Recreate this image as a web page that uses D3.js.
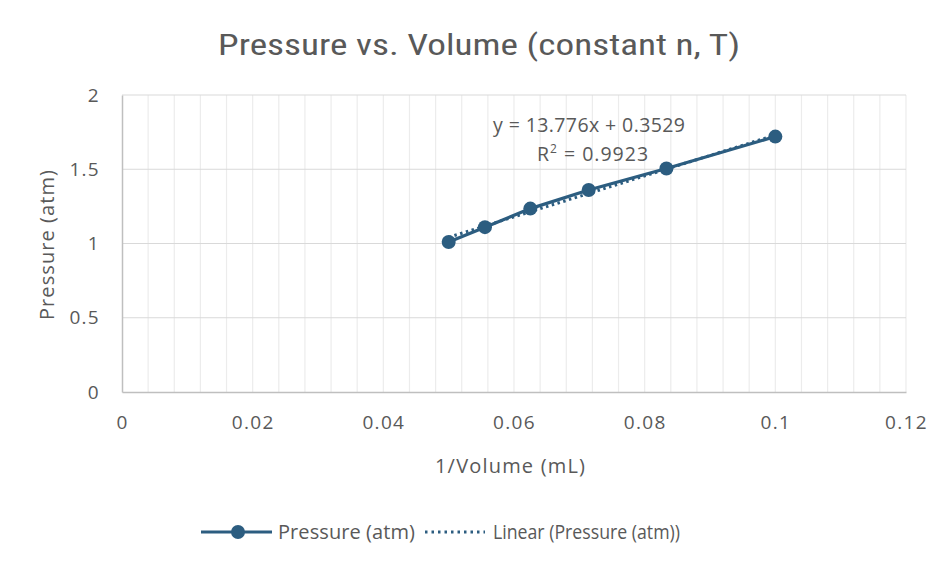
<!DOCTYPE html>
<html>
<head>
<meta charset="utf-8">
<script src="https://cdn.jsdelivr.net/npm/d3@7"></script>
<style>
  body { margin: 0; background: #fff; }
  text { font-family: "Open Sans", Roboto, "Liberation Sans", sans-serif; fill: #595959; }
  .title { font-family: "Liberation Sans Narrow", "Roboto Condensed", "DejaVu Sans Condensed", Roboto, sans-serif; }
</style>
</head>
<body>
<div id="chart"></div>
<script>
const width = 950, height = 570;
const margin = { top: 95, bottom: 178, left: 122, right: 44 };

// data: x = 1/Volume, y = Pressure (atm)
const inverseVolume = [1/20, 1/18, 1/16, 1/14, 1/12, 1/10];
const pressure = [1.01, 1.11, 1.235, 1.36, 1.505, 1.72];
const trendSlope = 13.776, trendIntercept = 0.3529;
const xTicks = [0, 0.02, 0.04, 0.06, 0.08, 0.1, 0.12];
const yTicks = [0, 0.5, 1, 1.5, 2];
const seriesColor = '#2c5d80';

const innerW = width - margin.left - margin.right;
const innerH = height - margin.top - margin.bottom;

const xScale = d3.scaleLinear().domain([0, 0.12]).range([0, innerW]);
const yScale = d3.scaleLinear().domain([0, 2]).range([innerH, 0]);

const svg = d3.select('#chart').append('svg')
    .attr('width', width)
    .attr('height', height);

const g = svg.append('g')
    .attr('transform', 'translate(' + margin.left + ',' + margin.top + ')');

// minor vertical gridlines every 0.004
g.append('g')
    .selectAll('line')
    .data(d3.range(1, 31).map(i => i * 0.004))
    .join('line')
    .attr('x1', d => xScale(d)).attr('x2', d => xScale(d))
    .attr('y1', 0).attr('y2', innerH)
    .attr('stroke', '#ececec').attr('stroke-width', 1.2);

// horizontal gridlines
g.append('g')
    .selectAll('line')
    .data(yTicks.slice(1))
    .join('line')
    .attr('x1', 0).attr('x2', innerW)
    .attr('y1', d => yScale(d)).attr('y2', d => yScale(d))
    .attr('stroke', '#d9d9d9').attr('stroke-width', 1.2);

// axes
const xAxis = g.append('g')
    .attr('transform', 'translate(0,' + innerH + ')')
    .call(d3.axisBottom(xScale).tickValues(xTicks).tickSize(0).tickPadding(24).tickFormat(d3.format('~g')));
const yAxis = g.append('g')
    .call(d3.axisLeft(yScale).tickValues(yTicks).tickSize(0).tickPadding(22).tickFormat(d3.format('~g')));
[xAxis, yAxis].forEach(a => {
    a.select('.domain').attr('stroke', '#bfbfbf').attr('stroke-width', 1.5);
    a.selectAll('text')
        .style('font-size', '19px')
        .style('letter-spacing', '1.3px')
        .style('font-family', '"Open Sans", Roboto, sans-serif')
        .attr('fill', '#595959');
});

// trendline (dotted)
const tx = d3.extent(inverseVolume);
g.append('line')
    .attr('x1', xScale(tx[0])).attr('y1', yScale(trendSlope * tx[0] + trendIntercept))
    .attr('x2', xScale(tx[1])).attr('y2', yScale(trendSlope * tx[1] + trendIntercept))
    .attr('stroke', seriesColor).attr('stroke-width', 3)
    .attr('stroke-dasharray', '2.5,3.5');

// series line and markers
const pts = inverseVolume.map((x, i) => [x, pressure[i]]);
g.append('path')
    .datum(pts)
    .attr('fill', 'none')
    .attr('stroke', seriesColor)
    .attr('stroke-width', 3.2)
    .attr('d', d3.line().x(d => xScale(d[0])).y(d => yScale(d[1])));
g.selectAll('.dot')
    .data(pts)
    .join('circle')
    .attr('class', 'dot')
    .attr('cx', d => xScale(d[0])).attr('cy', d => yScale(d[1]))
    .attr('r', 7)
    .attr('fill', seriesColor);

// trendline label
svg.append('text')
    .attr('x', 589).attr('y', 132)
    .attr('text-anchor', 'middle')
    .attr('textLength', 192)
    .attr('lengthAdjust', 'spacing')
    .style('font-size', '19.5px')
    .text('y = 13.776x + 0.3529');
const r2 = svg.append('text')
    .attr('x', 537).attr('y', 161)
    .style('font-size', '19.5px')
    .style('letter-spacing', '1px');
r2.append('tspan').text('R');
r2.append('tspan').attr('dy', -8).style('font-size', '12px').text('2');
r2.append('tspan').attr('dy', 8).text(' = 0.9923');

// title
svg.append('text')
    .attr('class', 'title')
    .attr('x', 479).attr('y', 55)
    .attr('text-anchor', 'middle')
    .attr('textLength', 522)
    .attr('lengthAdjust', 'spacingAndGlyphs')
    .style('font-size', '29px')
    .text('Pressure vs. Volume (constant n, T)');

// axis titles
svg.append('text')
    .attr('x', 510).attr('y', 473)
    .attr('text-anchor', 'middle')
    .attr('textLength', 150)
    .attr('lengthAdjust', 'spacing')
    .style('font-size', '20px')
    .text('1/Volume (mL)');
svg.append('text')
    .attr('transform', 'translate(54,245) rotate(-90)')
    .attr('text-anchor', 'middle')
    .attr('textLength', 150)
    .attr('lengthAdjust', 'spacing')
    .style('font-size', '20px')
    .text('Pressure (atm)');

// legend
const legend = svg.append('g').attr('transform', 'translate(0,532)');
legend.append('line')
    .attr('x1', 201).attr('x2', 272).attr('y1', 0).attr('y2', 0)
    .attr('stroke', seriesColor).attr('stroke-width', 3.2);
legend.append('circle').attr('cx', 238).attr('cy', 0).attr('r', 7).attr('fill', seriesColor);
legend.append('text').attr('x', 278).attr('y', 6.5)
    .attr('textLength', 137).attr('lengthAdjust', 'spacing')
    .style('font-size', '20px').text('Pressure (atm)');
legend.append('line')
    .attr('x1', 425).attr('x2', 485).attr('y1', 0).attr('y2', 0)
    .attr('stroke', seriesColor).attr('stroke-width', 3)
    .attr('stroke-dasharray', '2.5,4');
legend.append('text').attr('x', 493).attr('y', 6.5)
    .attr('textLength', 187).attr('lengthAdjust', 'spacingAndGlyphs')
    .style('font-size', '20px').text('Linear (Pressure (atm))');
</script>
</body>
</html>
